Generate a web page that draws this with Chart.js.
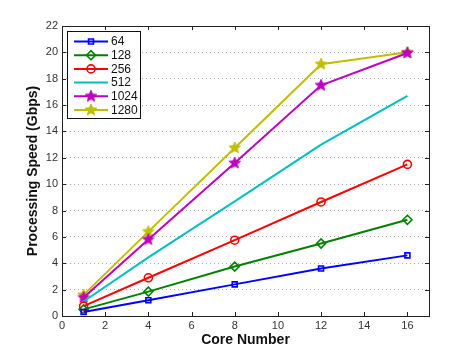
<!DOCTYPE html>
<html><head><meta charset="utf-8">
<script src="https://cdn.jsdelivr.net/npm/chart.js@4/dist/chart.umd.min.js"></script>
<style>html,body{margin:0;padding:0;background:#fff}canvas{display:block}</style>
</head><body>
<canvas id="c" width="474" height="355"></canvas>
<script>
const cores = [1, 4, 8, 12, 16];
const s64   = [0.3, 1.2, 2.4, 3.6, 4.6];
const s128  = [0.5, 1.85, 3.75, 5.5, 7.3];
const s256  = [0.75, 2.9, 5.75, 8.65, 11.5];
const s512  = [1.1, 4.45, 8.7, 13.0, 16.7];
const s1024 = [1.4, 5.8, 11.6, 17.5, 19.95];
const s1280 = [1.6, 6.4, 12.75, 19.1, 20.0];
const seriesNames = ['64', '128', '256', '512', '1024', '1280'];
const xTicks = [0, 2, 4, 6, 8, 10, 12, 14, 16];
const yTicks = [0, 2, 4, 6, 8, 10, 12, 14, 16, 18, 20, 22];

function starCanvas(color, r) {
  const size = Math.ceil(r * 2 + 4);
  const cv = document.createElement('canvas');
  cv.width = size; cv.height = size;
  const g = cv.getContext('2d');
  const cx = size / 2, cy = size / 2;
  g.beginPath();
  for (let i = 0; i < 10; i++) {
    const rr = i % 2 === 0 ? r : r * 0.45;
    const a = -Math.PI / 2 + i * Math.PI / 5;
    const px = cx + rr * Math.cos(a), py = cy + rr * Math.sin(a);
    if (i === 0) g.moveTo(px, py); else g.lineTo(px, py);
  }
  g.closePath();
  g.fillStyle = color; g.fill();
  g.lineWidth = 1; g.strokeStyle = color; g.stroke();
  return cv;
}

const colors = ['#0000ff', '#008000', '#ff0000', '#00bfbf', '#bf00bf', '#bfbf00'];
const styles = ['rect', 'rectRot', 'circle', false, starCanvas('#bf00bf', 6), starCanvas('#bfbf00', 6)];
const radii = [3.5, 4.5, 4, 0, 6, 6];
const values = [s64, s128, s256, s512, s1024, s1280];

const datasets = values.map((v, i) => ({
  label: seriesNames[i],
  data: v.map((y, j) => ({x: cores[j], y})),
  borderColor: colors[i],
  backgroundColor: 'rgba(0,0,0,0)',
  borderWidth: 2,
  pointStyle: styles[i],
  pointRadius: radii[i],
  pointBorderWidth: 1.6,
  pointBorderColor: colors[i],
  pointBackgroundColor: 'rgba(0,0,0,0)',
  tension: 0
}));

const boxPlugin = {
  id: 'box',
  afterDatasetsDraw(chart) {
    const {ctx, chartArea: a, scales} = chart;
    ctx.save();
    ctx.strokeStyle = '#222';
    ctx.lineWidth = 1;
    ctx.strokeRect(Math.round(a.left) + 0.5, Math.round(a.top) + 0.5, Math.round(a.right - a.left), Math.round(a.bottom - a.top));
    ctx.beginPath();
    xTicks.forEach(t => {
      const x = Math.round(scales.x.getPixelForValue(t)) + 0.5;
      ctx.moveTo(x, a.bottom); ctx.lineTo(x, a.bottom - 4);
      ctx.moveTo(x, a.top); ctx.lineTo(x, a.top + 4);
    });
    yTicks.forEach(t => {
      const y = Math.round(scales.y.getPixelForValue(t)) + 0.5;
      ctx.moveTo(a.left, y); ctx.lineTo(a.left + 4, y);
      ctx.moveTo(a.right, y); ctx.lineTo(a.right - 4, y);
    });
    ctx.stroke();
    // legend
    const lx = 67, ly = 31, lw = 73, lh = 87;
    ctx.fillStyle = '#fff';
    ctx.fillRect(lx, ly, lw, lh);
    ctx.strokeStyle = '#111';
    ctx.strokeRect(lx + 0.5, ly + 0.5, lw, lh);
    ctx.font = '12px "Liberation Sans", Arial, sans-serif';
    ctx.textBaseline = 'middle';
    chart.data.datasets.forEach((ds, i) => {
      const y = ly + 10.5 + i * 13.7;
      ctx.strokeStyle = ds.borderColor;
      ctx.lineWidth = 2;
      ctx.beginPath(); ctx.moveTo(74, y); ctx.lineTo(108, y); ctx.stroke();
      if (ds.pointStyle) {
        ctx.fillStyle = 'rgba(0,0,0,0)';
        ctx.lineWidth = ds.pointBorderWidth;
        Chart.helpers.drawPoint(ctx, {
          pointStyle: ds.pointStyle, radius: ds.pointRadius, borderWidth: ds.pointBorderWidth, rotation: 0
        }, 91, y);
      }
      ctx.fillStyle = '#111';
      ctx.fillText(ds.label, 111, y + 0.5);
    });
    ctx.restore();
  }
};

new Chart(document.getElementById('c'), {
  type: 'line',
  data: {datasets},
  options: {
    responsive: false,
    animation: false,
    layout: {padding: {left: 25, right: 45, top: 26, bottom: 6}},
    plugins: {legend: {display: false}, tooltip: {enabled: false}},
    scales: {
      x: {
        type: 'linear', min: 0, max: 17,
        afterBuildTicks: s => { s.ticks = xTicks.map(v => ({value: v})); },
        afterFit: s => { s.height = 33; },
        grid: {display: false, drawTicks: false},
        border: {display: false},
        ticks: {color: '#333', font: {size: 11, family: '"Liberation Sans", Arial'}, padding: 3, maxRotation: 0},
        title: {display: true, text: 'Core Number', color: '#111', font: {size: 14, weight: 'bold', family: '"Liberation Sans", Arial'}, padding: {top: 0, bottom: 0}}
      },
      y: {
        type: 'linear', min: 0, max: 22,
        afterBuildTicks: s => { s.ticks = yTicks.map(v => ({value: v})); },
        afterFit: s => { s.width = 37; },
        grid: {color: '#aaa', lineWidth: 1, drawTicks: false, borderDash: [1, 3]},
        border: {display: false, dash: [1, 3]},
        ticks: {color: '#333', font: {size: 11, family: '"Liberation Sans", Arial'}, padding: 4},
        title: {display: true, text: 'Processing Speed (Gbps)', color: '#111', font: {size: 14, weight: 'bold', family: '"Liberation Sans", Arial'}, padding: {top: 0, bottom: 0}}
      }
    }
  },
  plugins: [boxPlugin]
});
</script>
</body></html>
